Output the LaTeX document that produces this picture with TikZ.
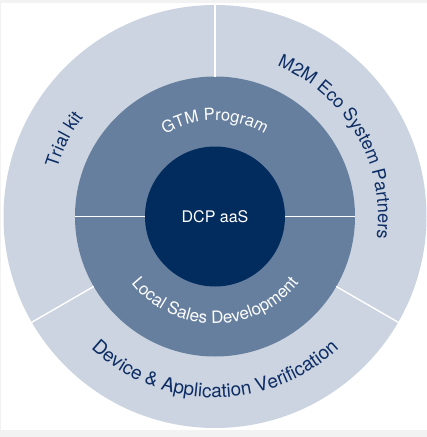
\documentclass[tikz,border=0pt]{standalone}
\usepackage{fontspec}
\setmainfont{TeX Gyre Heros}
\usetikzlibrary{decorations.text}

\definecolor{ringouter}{HTML}{CBD4E0}
\definecolor{ringmid}{HTML}{667F9F}
\definecolor{ringcore}{HTML}{022B5E}
\definecolor{labelnavy}{HTML}{0D2D64}
\definecolor{framegray}{HTML}{F2F2F2}

\begin{document}
\begin{tikzpicture}[
			x=1pt, y=1pt,
			ring/.style={
					circle,
					draw=none,
					inner sep=0pt,
					outer sep=0pt
				},
			outerring/.style={ring, fill=ringouter, minimum size=423pt},
			midring/.style={ring, fill=ringmid, minimum size=280pt},
			corering/.style={ring, fill=ringcore, minimum size=140pt,
					text=white, font=\fontsize{16}{18}\selectfont},
			divider/.style={draw=white, line width=1.4pt},
			arclabel/.style={
					decorate,
					decoration={text along path, text align=center, text color=#1}
				}
		]

		% Frame
		\useasboundingbox (-215,-220.5) rectangle (212,216.5);
		\fill[framegray] (-215,-220.5) rectangle (212,216.5);
		\fill[white] (-214,-213) rectangle (212,213.5);

		% Nodes
		\node[outerring] (outer) at (0,0) {};
		\node[midring] (mid) at (0,0) {};
		\node[corering] (core) at (0,0) {DCP aaS};

		% Dividers
		\draw[divider] (mid.90) -- (outer.90);
		\draw[divider] (mid.210) -- (outer.210);
		\draw[divider] (mid.330) -- (outer.330);
		\draw[divider] (core.0) -- (mid.0);
		\draw[divider] (core.180) -- (mid.180);

		% Labels
		\path[arclabel=labelnavy, decoration={text={|\fontsize{18}{20}\selectfont|Trial kit}}]
			(175:165) arc[start angle=175, end angle=131, radius=165];
		\path[arclabel=labelnavy, decoration={text={|\fontsize{18}{20}\selectfont|M2M Eco System Partners}}]
			(85:163) arc[start angle=85, end angle=-25, radius=163];
		\path[arclabel=labelnavy, decoration={text={|\fontsize{19}{21}\selectfont|Device {\&} Application Verification}}]
			(200:181) arc[start angle=200, end angle=340, radius=181];
		\path[arclabel=white, decoration={text={|\fontsize{16.5}{18}\selectfont|GTM Program}}]
			(150:96) arc[start angle=150, end angle=30, radius=96];
		\path[arclabel=white, decoration={text={|\fontsize{17}{19}\selectfont|Local Sales Development}}]
			(195:107) arc[start angle=195, end angle=345, radius=107];

	\end{tikzpicture}
\end{document}
